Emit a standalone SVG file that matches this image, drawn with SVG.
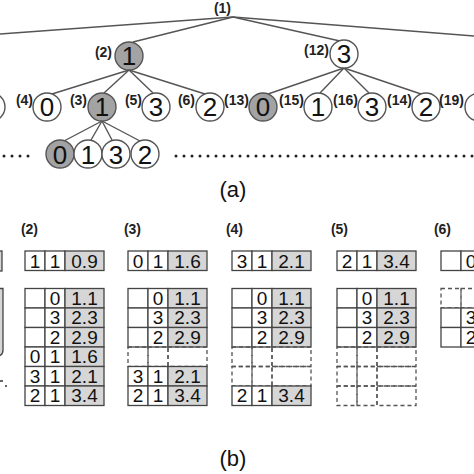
<svg xmlns="http://www.w3.org/2000/svg" width="474" height="474" viewBox="0 0 474 474">
<style>
.e{stroke:#555;stroke-width:1.4;fill:none}
.n{fill:#fff;stroke:#555;stroke-width:1.4}
.ng{fill:#a3a3a3;stroke:#555;stroke-width:1.4}
.t{font-family:"Liberation Sans",Arial,sans-serif;font-size:26px;text-anchor:middle;fill:#111}
.l{font-family:"Liberation Sans",Arial,sans-serif;font-size:14px;font-weight:bold;text-anchor:end;fill:#222}
.c{fill:#fff;stroke:#444;stroke-width:1.3}
.cg{fill:#d6d6d6;stroke:#444;stroke-width:1.3}
.d{fill:none;stroke:#555;stroke-width:1.3;stroke-dasharray:4 3}
.ct{font-family:"Liberation Sans",Arial,sans-serif;font-size:19px;text-anchor:middle;fill:#111}
.cap{font-family:"Liberation Sans",Arial,sans-serif;font-size:22px;text-anchor:middle;fill:#111}
.dots{stroke:#222;stroke-width:3;stroke-linecap:round;stroke-dasharray:0 8;fill:none}
</style>
<defs>
<g id="sr"><rect class="c" x="0" y="0" width="20" height="19.5"/><rect class="c" x="20" y="0" width="20" height="19.5"/><rect class="cg" x="40" y="0" width="39" height="19.5"/></g>
<g id="dr"><rect class="d" x="0" y="0" width="20" height="19.5"/><rect class="d" x="20" y="0" width="20" height="19.5"/><rect class="d" x="40" y="0" width="39" height="19.5"/></g>
<g id="top3">
<use href="#sr" y="288.5"/><use href="#sr" y="308"/><use href="#sr" y="327.5"/>
<text class="ct" x="30" y="304.8">0</text><text class="ct" x="59.5" y="304.8">1.1</text>
<text class="ct" x="30" y="324.3">3</text><text class="ct" x="59.5" y="324.3">2.3</text>
<text class="ct" x="30" y="343.8">2</text><text class="ct" x="59.5" y="343.8">2.9</text>
</g>
</defs>

<g id="connectors">
<line class="e" x1="233" y1="17" x2="0" y2="34"/>
<line class="e" x1="233" y1="17" x2="133" y2="42"/>
<line class="e" x1="233" y1="17" x2="340" y2="41"/>
<line class="e" x1="233" y1="17" x2="474" y2="36"/>
<line class="e" x1="129" y1="70" x2="52" y2="94"/>
<line class="e" x1="129" y1="70" x2="104" y2="93"/>
<line class="e" x1="129" y1="70" x2="153" y2="93"/>
<line class="e" x1="129" y1="70" x2="205" y2="94"/>
<line class="e" x1="344" y1="68" x2="268" y2="94"/>
<line class="e" x1="344" y1="68" x2="320" y2="93"/>
<line class="e" x1="344" y1="68" x2="369" y2="93"/>
<line class="e" x1="344" y1="68" x2="421" y2="94"/>
<line class="e" x1="102" y1="121" x2="64" y2="141"/>
<line class="e" x1="102" y1="121" x2="91" y2="140"/>
<line class="e" x1="102" y1="121" x2="112" y2="140"/>
<line class="e" x1="102" y1="121" x2="140" y2="141"/>
</g>

<g id="n1"><text class="l" x="231" y="13">(1)</text></g>
<g id="n2"><circle class="ng" cx="129" cy="56" r="14"/><text class="t" x="129" y="65">1</text><text class="l" x="112" y="57">(2)</text></g>
<g id="n12"><circle class="n" cx="344" cy="54" r="14"/><text class="t" x="344" y="63">3</text><text class="l" x="329" y="55">(12)</text></g>

<g id="nL"><circle class="n" cx="-9" cy="107" r="14"/></g>
<g id="n4"><circle class="n" cx="47" cy="107" r="14"/><text class="t" x="47" y="116">0</text><text class="l" x="33" y="105">(4)</text></g>
<g id="n3"><circle class="ng" cx="102" cy="107" r="14"/><text class="t" x="102" y="116">1</text><text class="l" x="87" y="105">(3)</text></g>
<g id="n5"><circle class="n" cx="156" cy="107" r="14"/><text class="t" x="156" y="116">3</text><text class="l" x="142" y="105">(5)</text></g>
<g id="n6"><circle class="n" cx="210" cy="107" r="14"/><text class="t" x="210" y="116">2</text><text class="l" x="195" y="105">(6)</text></g>
<g id="n13"><circle class="ng" cx="263" cy="107" r="14"/><text class="t" x="263" y="116">0</text><text class="l" x="249" y="105">(13)</text></g>
<g id="n15"><circle class="n" cx="318" cy="107" r="14"/><text class="t" x="318" y="116">1</text><text class="l" x="304" y="105">(15)</text></g>
<g id="n16"><circle class="n" cx="372" cy="107" r="14"/><text class="t" x="372" y="116">3</text><text class="l" x="358" y="105">(16)</text></g>
<g id="n14"><circle class="n" cx="426" cy="107" r="14"/><text class="t" x="426" y="116">2</text><text class="l" x="412" y="105">(14)</text></g>
<g id="n19"><circle class="n" cx="479" cy="107" r="14"/><text class="l" x="464" y="105">(19)</text></g>

<g id="leaf0"><circle class="ng" cx="60" cy="154" r="14"/><text class="t" x="60" y="163.5">0</text></g>
<g id="leaf1"><circle class="n" cx="88" cy="154" r="14"/><text class="t" x="88" y="163.5">1</text></g>
<g id="leaf3"><circle class="n" cx="116" cy="154" r="14"/><text class="t" x="116" y="163.5">3</text></g>
<g id="leaf2"><circle class="n" cx="145" cy="154" r="14"/><text class="t" x="145" y="163.5">2</text></g>

<line class="dots" x1="4" y1="156" x2="30" y2="156"/>
<line class="dots" x1="176" y1="156" x2="474" y2="156"/>

<text class="cap" x="233" y="197">(a)</text>

<!-- left fragments -->
<rect class="cg" x="-40" y="251" width="42" height="20"/>
<path d="M-40 288.5 H3 V350 Q3 356 -3 356 H-40 Z" fill="#d6d6d6" stroke="#444" stroke-width="1.3"/>
<path d="M0 381 H3 M5 386 H7" stroke="#333" stroke-width="1.5"/>

<g id="table2">
<text class="l" x="38" y="234">(2)</text>
<use href="#sr" x="25" y="251"/>
<text class="ct" x="35" y="267.5">1</text><text class="ct" x="55" y="267.5">1</text><text class="ct" x="84.5" y="267.5">0.9</text>
<use href="#top3" x="25"/>
<use href="#sr" x="25" y="347"/><use href="#sr" x="25" y="366.5"/><use href="#sr" x="25" y="386"/>
<text class="ct" x="35" y="363.3">0</text><text class="ct" x="55" y="363.3">1</text><text class="ct" x="84.5" y="363.3">1.6</text>
<text class="ct" x="35" y="382.8">3</text><text class="ct" x="55" y="382.8">1</text><text class="ct" x="84.5" y="382.8">2.1</text>
<text class="ct" x="35" y="402.3">2</text><text class="ct" x="55" y="402.3">1</text><text class="ct" x="84.5" y="402.3">3.4</text>
</g>

<g id="table3">
<text class="l" x="141" y="234">(3)</text>
<use href="#sr" x="128" y="251"/>
<text class="ct" x="138" y="267.5">0</text><text class="ct" x="158" y="267.5">1</text><text class="ct" x="187.5" y="267.5">1.6</text>
<use href="#top3" x="128"/>
<use href="#dr" x="128" y="347"/>
<use href="#sr" x="128" y="366.5"/><use href="#sr" x="128" y="386"/>
<text class="ct" x="138" y="382.8">3</text><text class="ct" x="158" y="382.8">1</text><text class="ct" x="187.5" y="382.8">2.1</text>
<text class="ct" x="138" y="402.3">2</text><text class="ct" x="158" y="402.3">1</text><text class="ct" x="187.5" y="402.3">3.4</text>
</g>

<g id="table4">
<text class="l" x="243" y="234">(4)</text>
<use href="#sr" x="232" y="251"/>
<text class="ct" x="242" y="267.5">3</text><text class="ct" x="262" y="267.5">1</text><text class="ct" x="291.5" y="267.5">2.1</text>
<use href="#top3" x="232"/>
<use href="#dr" x="232" y="347"/><use href="#dr" x="232" y="366.5"/>
<use href="#sr" x="232" y="386"/>
<text class="ct" x="242" y="402.3">2</text><text class="ct" x="262" y="402.3">1</text><text class="ct" x="291.5" y="402.3">3.4</text>
</g>

<g id="table5">
<text class="l" x="348" y="234">(5)</text>
<use href="#sr" x="337" y="251"/>
<text class="ct" x="347" y="267.5">2</text><text class="ct" x="367" y="267.5">1</text><text class="ct" x="396.5" y="267.5">3.4</text>
<use href="#top3" x="337"/>
<use href="#dr" x="337" y="347"/><use href="#dr" x="337" y="366.5"/><use href="#dr" x="337" y="386"/>
</g>

<g id="table6">
<text class="l" x="451" y="234">(6)</text>
<use href="#sr" x="441" y="251"/>
<text class="ct" x="471" y="267.5">0</text>
<use href="#dr" x="441" y="288.5"/>
<use href="#sr" x="441" y="308"/><use href="#sr" x="441" y="327.5"/>
<text class="ct" x="471" y="324.3">3</text>
<text class="ct" x="471" y="343.8">2</text>
</g>

<text class="cap" x="233" y="466">(b)</text>
</svg>
